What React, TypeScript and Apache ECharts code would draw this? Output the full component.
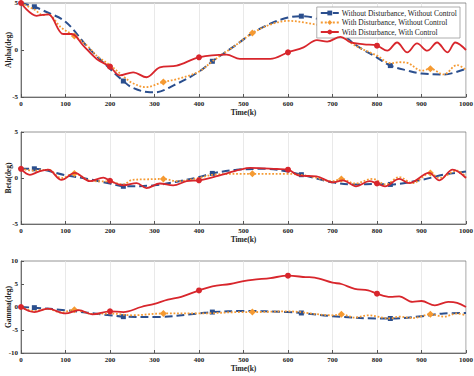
import React, { useEffect, useRef } from "react";
import * as echarts from "echarts";

type P = [number, number];

const seriesNames = [
  "Without Disturbance, Without Control",
  "With Disturbance, Without Control",
  "With Disturbance, With Control",
];

const blueMarkT = [30, 230, 430, 630, 830];
const orangeMarkT = [120, 320, 520, 720, 920];
const redMarkT = [0, 200, 400, 600, 800];

const alphaBlue: P[] = [[0,5],[30,4.6],[50,4.2],[100,3.0],[150,0.3],[200,-2.0],[230,-3.3],[250,-4.0],[290,-4.5],[300,-4.5],[350,-3.6],[400,-2.3],[430,-1.2],[485,0.6],[520,1.8],[560,2.8],[600,3.45],[630,3.6],[660,3.4],[700,2.6],[750,0.6],[800,-0.8],[830,-1.66],[870,-2.2],[900,-2.5],[950,-2.6],[1000,-2.0]];
const alphaOrange: P[] = [[0,5],[30,4.3],[50,3.7],[60,3.8],[90,2.4],[120,1.5],[150,0.4],[170,-0.6],[200,-1.6],[230,-2.8],[250,-3.5],[280,-3.95],[320,-3.4],[350,-3.1],[400,-2.3],[430,-1.2],[485,0.6],[520,1.8],[560,2.7],[600,3.1],[640,2.9],[700,2.2],[750,0.5],[800,-0.6],[830,-1.4],[850,-1.3],[870,-1.4],[900,-2.2],[920,-2.0],[950,-2.6],[980,-1.6],[1000,-2.1]];
const alphaRed: P[] = [[0,5],[35,3.64],[61,3.8],[95,1.7],[114,1.7],[140,0.46],[170,-0.95],[200,-1.77],[222,-2.7],[252,-2.37],[282,-2.9],[312,-1.84],[350,-1.66],[400,-0.78],[462,-0.5],[492,-0.95],[560,-0.95],[600,-0.25],[635,0.28],[665,1.06],[688,0.9],[718,1.4],[741,0.8],[771,0.6],[800,0.46],[823,-0.07],[845,0.8],[868,-0.25],[890,0.7],[913,-0.07],[935,0.8],[958,-0.25],[976,0.8],[1000,0.0]];

const betaBlue: P[] = [[0,1.0],[30,1.0],[100,0.3],[150,-0.1],[200,-0.6],[230,-0.9],[300,-0.8],[350,-0.4],[400,0.1],[430,0.5],[485,0.9],[550,1.0],[600,0.7],[630,0.36],[700,-0.47],[750,-0.7],[800,-0.65],[830,-0.7],[900,-0.2],[950,0.36],[1000,0.7]];
const betaOrange: P[] = [[0,1.0],[30,0.8],[61,0.9],[91,0.0],[120,0.5],[155,-0.3],[200,-0.4],[230,-0.7],[250,-0.2],[280,-0.15],[320,-0.1],[350,-0.35],[400,0.0],[430,0.35],[500,0.45],[520,0.45],[600,0.45],[650,0.18],[700,-0.35],[720,-0.1],[750,-0.6],[790,-0.1],[820,-0.7],[850,0.1],[880,-0.55],[920,0.55],[940,0.0],[980,0.8],[1000,0.1]];
const betaRed: P[] = [[0,1.0],[20,0.35],[40,0.7],[61,0.9],[91,-0.2],[121,0.55],[155,-0.35],[185,0.05],[200,-0.3],[230,-0.8],[260,-0.55],[282,-1.1],[312,-0.6],[342,-0.8],[372,-0.35],[400,-0.25],[440,0.2],[492,0.9],[515,1.1],[575,0.98],[600,0.9],[626,0.25],[664,0.18],[701,-0.47],[723,-0.25],[753,-0.9],[783,-0.35],[800,-0.6],[818,-0.9],[850,-0.1],[872,-0.55],[917,0.55],[940,-0.25],[970,0.9],[1000,0]];

const gammaBlue: P[] = [[0,0],[30,-0.15],[100,-0.7],[200,-1.8],[230,-2.1],[300,-2.2],[400,-1.4],[430,-1.1],[500,-0.86],[600,-1.1],[630,-1.3],[700,-2.0],[800,-2.5],[830,-2.5],[900,-2.0],[950,-1.4],[1000,-1.3]];
const gammaOrange: P[] = [[0,0],[30,-0.9],[60,-0.4],[90,-1.2],[120,-0.6],[160,-1.5],[200,-1.4],[250,-1.8],[320,-1.4],[400,-1.4],[500,-1.1],[520,-1.1],[600,-0.95],[700,-1.8],[720,-1.6],[750,-2.3],[780,-1.8],[830,-2.5],[850,-2.1],[880,-2.4],[920,-1.6],[950,-2.1],[980,-1.4],[1000,-1.8]];
const gammaRed: P[] = [[0,0],[30,-1.1],[60,-0.36],[100,-1.4],[130,-0.7],[160,-1.6],[200,-0.95],[230,-1.1],[270,0],[300,0.7],[330,1.6],[360,2.2],[400,3.6],[430,4.5],[470,5.0],[500,5.6],[520,5.9],[560,6.3],[600,6.8],[640,6.5],[660,6.4],[700,5.3],[720,5.0],[750,3.95],[780,3.6],[800,2.9],[830,2.2],[850,2.3],[880,1.1],[900,1.3],[930,0.36],[960,1.1],[980,0.9],[1000,0]];

const panels = [
  { name: "Alpha(deg)", min: -5, max: 5, data: [alphaBlue, alphaOrange, alphaRed] },
  { name: "Beta(deg)", min: -5, max: 5, data: [betaBlue, betaOrange, betaRed] },
  { name: "Gamma(deg)", min: -10, max: 10, data: [gammaBlue, gammaOrange, gammaRed] },
];

const FONT = "'Liberation Serif', 'Times New Roman', serif";
const BLUE = "#2b4f8e";
const ORANGE = "#f59a32";
const RED = "#d8262c";

export default function App() {
  const ref = useRef<HTMLDivElement>(null);
  useEffect(() => {
    if (!ref.current) return;
    const chart = echarts.init(ref.current, undefined, { renderer: "svg" });
    const tops = [3, 132, 261];
    const heights = [94, 92, 92];
    const grids = tops.map((t, i) => ({
      left: 21, right: 8, top: t, height: heights[i],
      containLabel: false, outerBoundsMode: "none",
      show: true, borderColor: "#7a7a7a", borderWidth: 0.8, backgroundColor: "#fff",
    }));
    const xAxis = panels.map((_, i) => ({
      type: "value", gridIndex: i, min: 0, max: 1000, interval: 100,
      name: "Time(k)", nameLocation: "middle", nameGap: 11, nameMoveOverlap: false,
      nameTextStyle: { fontFamily: FONT, fontWeight: "bold", fontSize: 7.5, color: "#222" },
      axisLine: { show: true, onZero: false, lineStyle: { color: "#555", width: 0.8 } },
      axisTick: { show: true, inside: true, length: 3, lineStyle: { color: "#555" } },
      axisLabel: { fontFamily: FONT, fontWeight: "bold", fontSize: 7, color: "#222", margin: 3, formatter: (v: number) => String(v) },
      splitLine: { show: true, lineStyle: { color: "#e3e3e3", width: 0.8 } },
    }));
    const yAxis = panels.map((p, i) => ({
      type: "value", gridIndex: i, min: p.min, max: p.max, interval: 5,
      name: p.name, nameLocation: "middle", nameGap: 9, nameRotate: 90, nameMoveOverlap: false,
      nameTextStyle: { fontFamily: FONT, fontWeight: "bold", fontSize: 7.5, color: "#222" },
      axisLine: { show: true, onZero: false, lineStyle: { color: "#555", width: 0.8 } },
      axisTick: { show: true, inside: true, length: 3, lineStyle: { color: "#555" } },
      axisLabel: { fontFamily: FONT, fontWeight: "bold", fontSize: 7, color: "#222", margin: 3 },
      splitLine: { show: false },
    }));
    const styles = [
      { color: BLUE, type: "dashed" as const, width: 2, symbol: "rect", size: 5, marks: blueMarkT },
      { color: ORANGE, type: "dotted" as const, width: 1.8, symbol: "diamond", size: 7, marks: orangeMarkT },
      { color: RED, type: "solid" as const, width: 1.8, symbol: "circle", size: 6, marks: redMarkT },
    ];
    const series: any[] = [];
    panels.forEach((p, gi) => {
      p.data.forEach((d, si) => {
        const s = styles[si];
        series.push({
          type: "line", name: seriesNames[si], xAxisIndex: gi, yAxisIndex: gi,
          smooth: 0.35, showAllSymbol: true, symbol: s.symbol, symbolSize: s.size,
          lineStyle: { color: s.color, type: s.type, width: s.width },
          itemStyle: { color: s.color },
          z: 2 + si,
          data: d.map(([t, v]) => ({ value: [t, v], symbol: s.marks.includes(t) ? s.symbol : "none" })),
        });
      });
    });
    chart.setOption({
      animation: false,
      backgroundColor: "#fff",
      grid: grids,
      xAxis, yAxis, series,
      legend: {
        data: seriesNames, orient: "vertical", right: 14, top: 7,
        backgroundColor: "#fff", borderColor: "#999", borderWidth: 0.8,
        padding: [2, 3, 2, 3], itemGap: 1.5, itemWidth: 18, itemHeight: 6,
        textStyle: { fontFamily: FONT, fontSize: 7.5, color: "#222", padding: [0, 0, 0, -2] },
      },
    });
    return () => chart.dispose();
  }, []);
  return <div ref={ref} style={{ position: "fixed", left: 0, top: 0, width: 474, height: 376 }} />;
}
